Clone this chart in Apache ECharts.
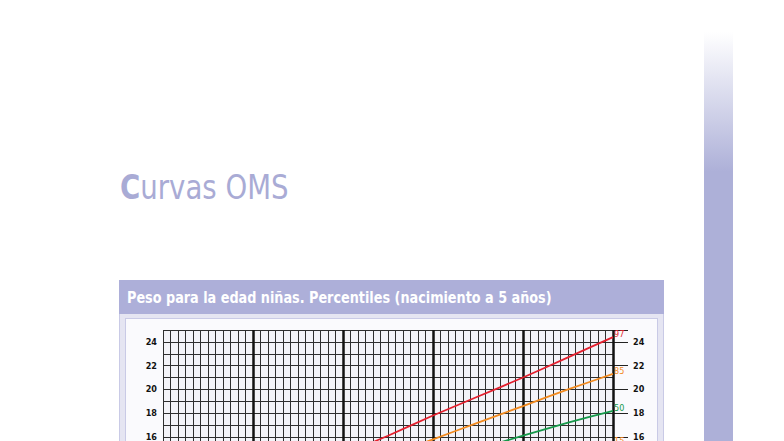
<!DOCTYPE html>
<html>
<head>
<meta charset="utf-8">
<script src="https://cdn.jsdelivr.net/npm/echarts@6/dist/echarts.min.js"></script>
<style>
  html, body { margin:0; padding:0; width:784px; height:441px; overflow:hidden; background:#ffffff; }
  #side { position:absolute; left:704px; top:32px; width:29px; height:420px;
          background:linear-gradient(to bottom, rgba(173,176,216,0) 0px, #adb0d8 140px, #adb0d8 100%); }
  #title { position:absolute; left:120px; top:168px; font-family:"DejaVu Sans Condensed","DejaVu Sans",sans-serif;
           font-size:33px; font-weight:300; color:#a9abd5; white-space:nowrap;
           transform:scaleX(0.93); transform-origin:0 0; }
  #title b { font-weight:bold; }
  #panel { position:absolute; left:119px; top:280px; width:545px; height:200px; background:#e5e5f2;
           border:1px solid #c9cae6; box-sizing:border-box; }
  #head { position:absolute; left:119px; top:280px; width:545px; height:34px; background:#adafd9; }
  #head span { position:absolute; left:8px; top:8px; font-family:"DejaVu Sans Condensed","DejaVu Sans",sans-serif;
               font-weight:bold; font-size:16px; color:#ffffff; white-space:nowrap;
               transform:scaleX(0.89); transform-origin:0 0; }
  #inner { position:absolute; left:125px; top:318px; width:533px; height:200px; background:#fafafd;
           border:1px solid #c9cae6; box-sizing:border-box; }
  #chart { position:absolute; left:0; top:0; width:784px; height:700px; }
</style>
</head>
<body>
<div id="side"></div>
<div id="title"><b>C</b>urvas OMS</div>
<div id="panel"></div>
<div id="head"><span>Peso para la edad niñas. Percentiles (nacimiento a 5 años)</span></div>
<div id="inner"></div>
<div id="chart"></div>
<script>
// Age in months
const months = [0,1,2,3,4,5,6,7,8,9,10,11,12,15,18,21,24,30,36,42,48,54,60];
// Weight (kg) percentiles
const p3  = [2.4,3.2,4.0,4.6,5.1,5.5,5.8,6.1,6.3,6.6,6.8,7.0,7.1,7.6,8.1,8.6,9.0,9.9,10.8,11.6,12.3,13.0,13.7];
const p15 = [2.8,3.6,4.5,5.1,5.6,6.1,6.4,6.7,7.0,7.3,7.5,7.7,7.9,8.5,9.0,9.5,10.0,11.0,12.0,12.9,13.7,14.6,15.4];
const p50 = [3.2,4.2,5.1,5.8,6.4,6.9,7.3,7.6,7.9,8.2,8.5,8.7,8.9,9.6,10.2,10.9,11.5,12.7,13.9,15.0,16.1,17.2,18.2];
const p85 = [3.7,4.8,5.9,6.7,7.3,7.8,8.3,8.7,9.0,9.3,9.6,9.9,10.2,10.9,11.6,12.3,13.0,14.4,15.8,17.2,18.6,20.0,21.3];
const p97 = [4.2,5.4,6.5,7.4,8.1,8.7,9.2,9.6,10.0,10.4,10.7,11.0,11.3,12.2,13.0,13.7,14.5,16.1,17.8,19.4,21.0,22.7,24.4];
const percentileNames = ['3','15','50','85','97'];
const yearLines = [12,24,36,48,60];
// tick labels visible in the picture
const yLabelValues = [16,18,20,22,24];
const yTickValues = [16,18,20,22,24,25];

const colors = {'3':'#e41f2d','15':'#f28a1e','50':'#16994a','85':'#f28a1e','97':'#e41f2d'};
const values = {'3':p3,'15':p15,'50':p50,'85':p85,'97':p97};

const chart = echarts.init(document.getElementById('chart'), null, {renderer:'svg'});
const font = '"DejaVu Sans Condensed","DejaVu Sans",sans-serif';

const series = percentileNames.map(name => ({
  type:'line',
  name:name,
  z:5,
  data: months.map((m,i) => [m, values[name][i]]),
  showSymbol:false,
  smooth:0.2,
  lineStyle:{color:colors[name], width:1.8},
  itemStyle:{color:colors[name]},
  endLabel:{show:values[name][values[name].length-1] > 15, formatter:name, color:colors[name], fontSize:9, fontFamily:font, distance:1, offset:[0,-3]},
  silent:true
}));
series.push({
  type:'line', data:[], z:2, silent:true,
  markLine:{silent:true, symbol:'none', label:{show:false},
    lineStyle:{color:'#111', width:2.5, type:'solid'},
    data: yearLines.map(v => ({xAxis:v}))}
});

chart.setOption({
  animation:false,
  grid:{left:163, top:330, width:450, height:297, show:true, backgroundColor:'#f3f3f8', borderWidth:0},
  xAxis:{type:'value', min:0, max:60, interval:1,
    axisLine:{show:false}, axisTick:{show:false}, axisLabel:{show:false},
    splitLine:{show:true, lineStyle:{color:'#2e2e2e', width:1}}},
  yAxis:[
    {type:'value', position:'left', min:0, max:25, interval:1,
     axisLine:{show:false}, axisTick:{show:false},
     axisLabel:{customValues:yLabelValues, margin:6, fontSize:9, color:'#111', fontFamily:font, fontWeight:'bold'},
     splitLine:{show:true, lineStyle:{color:'#2e2e2e', width:1}}},
    {type:'value', position:'right', min:0, max:25, interval:1,
     axisLine:{show:false},
     axisTick:{show:true, inside:false, length:15, customValues:yTickValues, lineStyle:{color:'#222', width:1}},
     axisLabel:{customValues:yLabelValues, margin:20, fontSize:9, color:'#111', fontFamily:font, fontWeight:'bold'},
     splitLine:{show:false}}
  ],
  series: series
});
</script>
</body>
</html>
